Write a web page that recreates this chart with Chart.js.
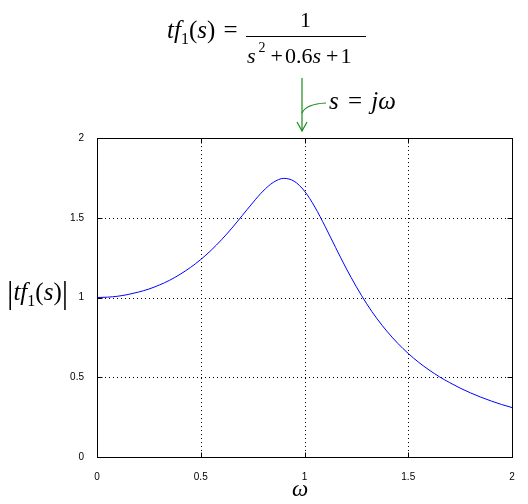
<!DOCTYPE html>
<html>
<head>
<meta charset="utf-8">
<script src="https://cdn.jsdelivr.net/npm/chart.js@4/dist/chart.umd.min.js"></script>
<style>
  html, body { margin: 0; padding: 0; background: #fff; }
  #wrap { position: relative; width: 528px; height: 504px; overflow: hidden; }
  #chart { position: absolute; left: 0; top: 0; }
  .math { position: absolute; font-family: "Liberation Serif", "Times New Roman", serif; font-size: 25px; line-height: 1; color: #000; white-space: nowrap; }
  .math i { font-style: italic; }
  .math sub { font-size: 16px; vertical-align: -6px; line-height: 0; }
  .math sup { font-size: 14px; vertical-align: 11px; line-height: 0; margin-left: 3px; }
  .bar { font-size: 32px; vertical-align: -3px; line-height: 0; font-style: normal; }
  .op { margin: 0 2px 0 5px; }
  #arrow { position: absolute; left: 0; top: 0; }
</style>
</head>
<body>
<div id="wrap">
  <canvas id="chart" width="528" height="504"></canvas>

  <div class="math" id="eqLeft" style="left:167px; top:17px; word-spacing:2px;"><i>tf</i><sub>1</sub>(<i>s</i>) =</div>
  <div class="math" id="num" style="left:300px; top:9px; font-size:22px;">1</div>
  <div style="position:absolute; left:246px; top:36px; width:120px; height:1px; background:#000;"></div>
  <div class="math" id="den" style="left:247px; top:45px; font-size:22px;"><i>s</i><sup>2</sup><span class="op">+</span>0.6<i>s</i><span class="op">+</span>1</div>

  <svg id="arrow" width="528" height="504">
    <g stroke="#1a8a1a" stroke-width="1.2" fill="none">
      <line x1="302" y1="78" x2="302" y2="131"></line>
      <polyline points="297,122 302,131 307,122"></polyline>
      <path d="M302,113 Q306,104 326,103"></path>
    </g>
  </svg>
  <div class="math" id="sLabel" style="left:329px; top:88px; word-spacing:3px;"><i>s</i> = <i>jω</i></div>

  <div class="math" id="yLabel" style="left:7px; top:279px;"><span class="bar">|</span><i>tf</i><sub>1</sub>(<i>s</i>)<span class="bar">|</span></div>
  <div class="math" id="xLabel" style="left:292px; top:477px; font-size:23px;"><i>ω</i></div>
</div>

<script>
// frequency samples (omega) and |tf1(jw)|
const omega = [0, 0.05, 0.1, 0.15, 0.2, 0.25, 0.3, 0.35, 0.4, 0.45, 0.5,
               0.55, 0.6, 0.65, 0.7, 0.75, 0.8, 0.85, 0.9, 0.95, 1.0,
               1.05, 1.1, 1.15, 1.2, 1.25, 1.3, 1.35, 1.4, 1.45, 1.5,
               1.55, 1.6, 1.65, 1.7, 1.75, 1.8, 1.85, 1.9, 1.95, 2.0];
const magnitude = [1.000, 1.002, 1.008, 1.019, 1.034, 1.053, 1.078, 1.108, 1.145, 1.188, 1.238,
                   1.296, 1.362, 1.435, 1.514, 1.593, 1.667, 1.722, 1.747, 1.729, 1.667,
                   1.567, 1.444, 1.313, 1.185, 1.067, 0.960, 0.866, 0.784, 0.712, 0.649,
                   0.594, 0.546, 0.503, 0.466, 0.432, 0.402, 0.375, 0.351, 0.329, 0.310];
const xTicks = [0, 0.5, 1, 1.5, 2];
const yTicks = [0, 0.5, 1, 1.5, 2];

const tickFont = { family: 'Liberation Sans, Arial, sans-serif', size: 10 };

// matlab-ish frame: dotted grid, box, inward ticks
const framePlugin = {
    id: 'frame',
    beforeDatasetsDraw(chart) {
        const { ctx, chartArea: a, scales } = chart;
        ctx.save();
        ctx.strokeStyle = '#000';
        ctx.lineWidth = 1;
        ctx.setLineDash([1, 3]);
        xTicks.forEach(v => {
            const px = Math.round(scales.x.getPixelForValue(v)) + 0.5;
            ctx.beginPath();
            ctx.moveTo(px, a.top);
            ctx.lineTo(px, a.bottom);
            ctx.stroke();
        });
        yTicks.forEach(v => {
            const py = Math.round(scales.y.getPixelForValue(v)) + 0.5;
            ctx.beginPath();
            ctx.moveTo(a.left, py);
            ctx.lineTo(a.right, py);
            ctx.stroke();
        });
        ctx.restore();
    },
    afterDatasetsDraw(chart) {
        const { ctx, chartArea: a, scales } = chart;
        const L = Math.round(a.left) + 0.5, R = Math.round(a.right) + 0.5;
        const T = Math.round(a.top) + 0.5, B = Math.round(a.bottom) + 0.5;
        const len = 5;
        ctx.save();
        ctx.strokeStyle = '#000';
        ctx.lineWidth = 1;
        ctx.beginPath();
        xTicks.forEach(v => {
            const px = Math.round(scales.x.getPixelForValue(v)) + 0.5;
            ctx.moveTo(px, B); ctx.lineTo(px, B - len);
            ctx.moveTo(px, T); ctx.lineTo(px, T + len);
        });
        yTicks.forEach(v => {
            const py = Math.round(scales.y.getPixelForValue(v)) + 0.5;
            ctx.moveTo(L, py); ctx.lineTo(L + len, py);
            ctx.moveTo(R, py); ctx.lineTo(R - len, py);
        });
        ctx.stroke();
        ctx.strokeRect(L, T, R - L, B - T);
        ctx.restore();
    }
};

new Chart(document.getElementById('chart'), {
    type: 'line',
    data: {
        datasets: [{
            data: omega.map((w, i) => ({ x: w, y: magnitude[i] })),
            borderColor: '#0000ff',
            borderWidth: 1,
            pointRadius: 0,
            cubicInterpolationMode: 'monotone',
            fill: false
        }]
    },
    options: {
        responsive: false,
        animation: false,
        devicePixelRatio: 1,
        layout: { padding: { left: 0, top: 138, right: 16, bottom: 0 } },
        plugins: { legend: { display: false }, tooltip: { enabled: false } },
        scales: {
            x: {
                type: 'linear',
                min: 0, max: 2,
                afterBuildTicks: s => { s.ticks = xTicks.map(v => ({ value: v })); },
                afterFit: s => { s.height = 47; },
                grid: { display: false },
                border: { display: false },
                ticks: { color: '#000', font: tickFont, padding: 6, maxRotation: 0, callback: v => String(v) }
            },
            y: {
                type: 'linear',
                min: 0, max: 2,
                afterBuildTicks: s => { s.ticks = yTicks.map(v => ({ value: v })); },
                afterFit: s => { s.width = 97; },
                grid: { display: false },
                border: { display: false },
                ticks: { color: '#000', font: tickFont, padding: 5, callback: v => String(v) }
            }
        }
    },
    plugins: [framePlugin]
});
</script>
</body>
</html>
